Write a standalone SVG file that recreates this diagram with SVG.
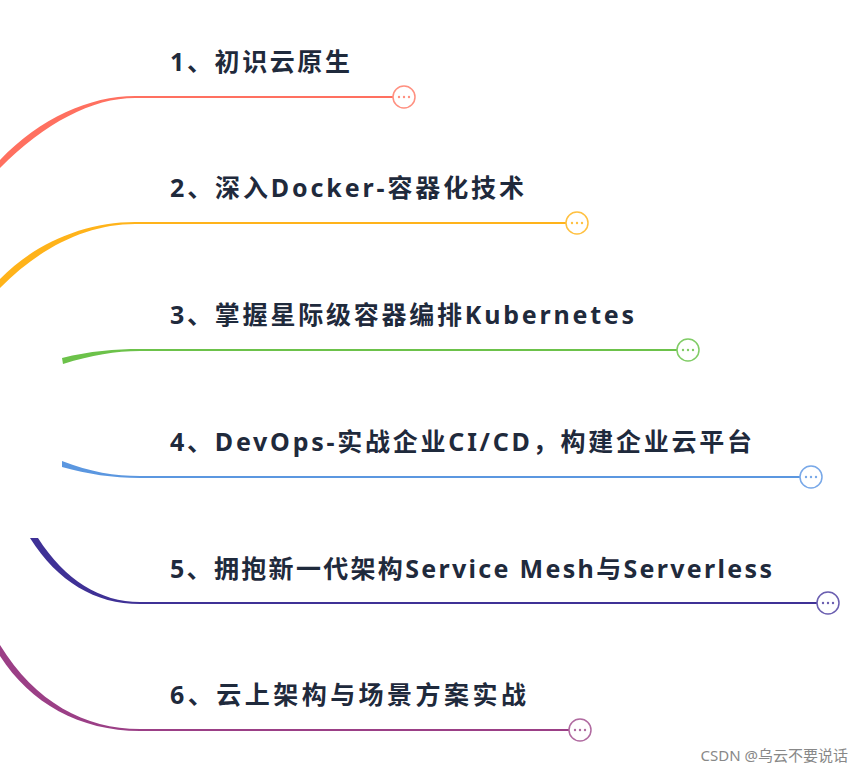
<svg xmlns="http://www.w3.org/2000/svg" width="863" height="775" viewBox="0 0 863 775">
<style>
.t{font-family:"Noto Sans","Noto Sans CJK SC",sans-serif;font-weight:bold;font-size:25px;fill:#1f2a3c}
.c{fill:#fff;stroke-width:1.5}
.d{stroke:none}
</style>
<rect width="863" height="775" fill="#fff"/>
<g id="connectors">
<path fill="#ff7060" d="M0,160 C40,118 90,96 135,96 L393,96 L393,98 L135,98 C92,98 45,123 0,168 Z"/>
<path fill="#ffb31a" d="M0,279 C35,243 85,222 135,222 L566,222 L566,224 L135,224 C88,224 40,247 0,288 Z"/>
<path fill="#6cc24a" d="M62,358 C90,351 115,349 140,349 L677,349 L677,351 L140,351 C115,351 92,355 63,364 Z"/>
<path fill="#5b97e0" d="M62,461 C90,472 115,476 140,476 L800,476 L800,478 L140,478 C112,478 88,474 62,467 Z"/>
<path fill="#3f3196" d="M30,538 L38,538 C65,580 100,602 140,602 L817,602 L817,604 L140,604 C95,604 58,582 30,538 Z"/>
<path fill="#9b3f86" d="M0,645 C35,702 85,729 140,729 L569,729 L569,731 L140,731 C80,731 30,703 0,656 Z"/>
</g>
<g id="n1"><text class="t" x="170" y="71" textLength="180">1、初识云原生</text>
<circle class="c" cx="404" cy="97" r="11" stroke="#ff9080"/><g class="d" fill="#ff9080"><circle cx="399" cy="97" r="1.2"/><circle cx="404" cy="97" r="1.2"/><circle cx="409" cy="97" r="1.2"/></g></g>
<g id="n2"><text class="t" x="170" y="197" textLength="354">2、深入Docker-容器化技术</text>
<circle class="c" cx="577" cy="223" r="11" stroke="#ffc040"/><g class="d" fill="#ffc040"><circle cx="572" cy="223" r="1.2"/><circle cx="577" cy="223" r="1.2"/><circle cx="582" cy="223" r="1.2"/></g></g>
<g id="n3"><text class="t" x="170" y="324" textLength="464">3、掌握星际级容器编排Kubernetes</text>
<circle class="c" cx="688" cy="350" r="11" stroke="#80cc66"/><g class="d" fill="#80cc66"><circle cx="683" cy="350" r="1.2"/><circle cx="688" cy="350" r="1.2"/><circle cx="693" cy="350" r="1.2"/></g></g>
<g id="n4"><text class="t" x="170" y="451" textLength="582">4、DevOps-实战企业CI/CD，构建企业云平台</text>
<circle class="c" cx="811" cy="477" r="11" stroke="#78a8e8"/><g class="d" fill="#78a8e8"><circle cx="806" cy="477" r="1.2"/><circle cx="811" cy="477" r="1.2"/><circle cx="816" cy="477" r="1.2"/></g></g>
<g id="n5"><text class="t" x="170" y="578" textLength="602">5、拥抱新一代架构Service Mesh与Serverless</text>
<circle class="c" cx="828" cy="603" r="11" stroke="#6a5eb0"/><g class="d" fill="#6a5eb0"><circle cx="823" cy="603" r="1.2"/><circle cx="828" cy="603" r="1.2"/><circle cx="833" cy="603" r="1.2"/></g></g>
<g id="n6"><text class="t" x="170" y="704" textLength="356">6、云上架构与场景方案实战</text>
<circle class="c" cx="580" cy="730" r="11" stroke="#b06aa0"/><g class="d" fill="#b06aa0"><circle cx="575" cy="730" r="1.2"/><circle cx="580" cy="730" r="1.2"/><circle cx="585" cy="730" r="1.2"/></g></g>
<text x="848" y="761" text-anchor="end" font-family="Noto Sans,Noto Sans CJK SC,sans-serif" font-size="15" fill="#888">CSDN @乌云不要说话</text>
</svg>
